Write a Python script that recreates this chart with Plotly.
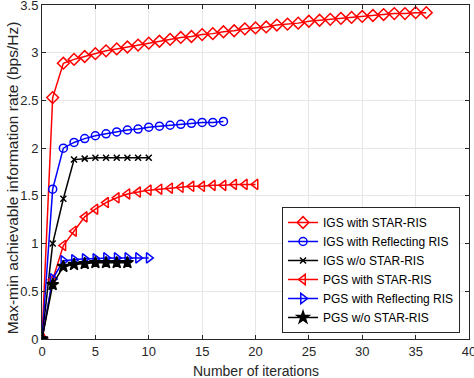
import plotly.graph_objects as go

igs_star = [0, 2.53, 2.89, 2.93, 2.96, 2.99, 3.02, 3.04, 3.06, 3.08, 3.10, 3.12, 3.14, 3.16, 3.17, 3.19, 3.20, 3.22, 3.23, 3.25, 3.26, 3.27, 3.29, 3.30, 3.31, 3.33, 3.34, 3.35, 3.36, 3.37, 3.38, 3.39, 3.40, 3.41, 3.41, 3.42, 3.42]
igs_refl = [0, 1.57, 2.00, 2.06, 2.10, 2.13, 2.15, 2.17, 2.19, 2.20, 2.22, 2.23, 2.24, 2.25, 2.26, 2.27, 2.27, 2.28]
igs_wo = [0, 1.00, 1.47, 1.88, 1.89, 1.90, 1.90, 1.90, 1.90, 1.90, 1.90]
pgs_star = [0, 0.62, 0.98, 1.13, 1.28, 1.36, 1.43, 1.48, 1.52, 1.54, 1.56, 1.57, 1.58, 1.59, 1.60, 1.60, 1.61, 1.61, 1.62, 1.62, 1.62]
pgs_refl = [0, 0.63, 0.82, 0.83, 0.84, 0.84, 0.85, 0.85, 0.85, 0.85, 0.85]
pgs_wo = [0, 0.57, 0.76, 0.78, 0.79, 0.80, 0.80, 0.80, 0.80]

names = ["IGS with STAR-RIS", "IGS with Reflecting RIS", "IGS w/o STAR-RIS",
         "PGS with STAR-RIS", "PGS with Reflecting RIS", "PGS w/o STAR-RIS"]
series = [igs_star, igs_refl, igs_wo, pgs_star, pgs_refl, pgs_wo]
colors = ["#ff0000", "#0000ff", "#000000", "#ff0000", "#0000ff", "#000000"]
symbols = ["diamond-open", "circle-open", "x-thin-open", "triangle-left-open", "triangle-right-open", "star"]
sizes = [9, 8, 6, 9, 9, 9]

fig = go.Figure()
for n, s, c, sym, sz in zip(names, series, colors, symbols, sizes):
    fig.add_trace(go.Scatter(
        x=list(range(len(s))), y=s, name=n, mode="lines+markers",
        line=dict(color=c, width=1.5),
        marker=dict(symbol=sym, size=sz, color=c, line=dict(color=c, width=1.5)),
    ))

axis_common = dict(
    showgrid=True, gridcolor="#e6e6e6", gridwidth=1,
    showline=True, linecolor="#262626", linewidth=1, mirror="ticks",
    ticks="inside", ticklen=4, tickcolor="#262626",
    zeroline=False, tickfont=dict(size=13, color="#262626"),
    automargin=False, ticklabeloverflow="allow",
)

fig.update_layout(
    width=474, height=378,
    margin=dict(l=42, r=5, t=5, b=39),
    paper_bgcolor="white", plot_bgcolor="white",
    font=dict(family="Liberation Sans, Arial, sans-serif", color="#262626"),
    xaxis=dict(range=[0, 40], dtick=5, **axis_common),
    yaxis=dict(range=[0, 3.5], dtick=0.5, **axis_common),
    legend=dict(x=0.979, y=0.018, xanchor="right", yanchor="bottom",
                bgcolor="white", bordercolor="#262626", borderwidth=1,
                font=dict(size=12, color="#000"), tracegroupgap=0, itemsizing="trace"),
    showlegend=True,
    annotations=[
        dict(text="Number of iterations", xref="paper", yref="paper", x=0.5, y=-0.125,
             xanchor="center", yanchor="bottom", showarrow=False, font=dict(size=14, color="#262626")),
        dict(text="Max-min achievable information rate (bps/Hz)", xref="paper", yref="paper",
             x=-0.094, y=0.482, textangle=-90, xanchor="left", yanchor="middle", showarrow=False,
             font=dict(size=15.5, color="#262626")),
    ],
)

fig.write_html("out.html", config={"displayModeBar": False},
               post_script="document.body.style.margin='0';")
